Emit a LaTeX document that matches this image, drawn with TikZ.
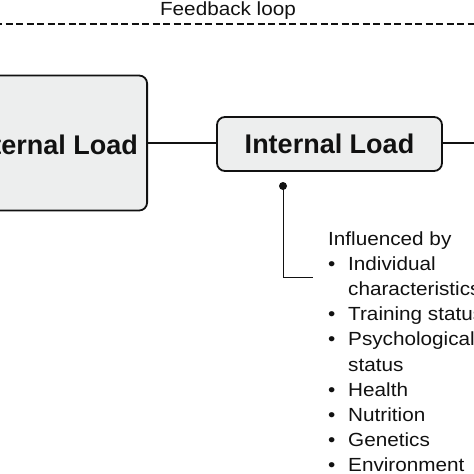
\documentclass[tikz,border=0pt]{standalone}
\usepackage{fontspec}
\setmainfont{Liberation Sans}
\newfontfamily\wideface[FakeStretch=1.09]{Liberation Sans}
\definecolor{boxgray}{HTML}{EDEEEE}
\definecolor{ink}{HTML}{111111}
\tikzset{
  loadbox/.style={draw=ink, line width=1.8pt, fill=boxgray, rounded corners=8pt, inner sep=0pt,
    font=\fontsize{27}{30}\selectfont\bfseries, text=ink},
  link/.style={draw=ink, line width=1.4pt},
  pinline/.style={draw=ink, line width=1pt},
  listtext/.style={anchor=base west, inner sep=0pt, font=\wideface\fontsize{19}{25}\selectfont, text=ink},
}
\begin{document}
\begin{tikzpicture}[x=1pt, y=-1pt]
\useasboundingbox (0,0) rectangle (474,474);
\clip (0,0) rectangle (474,474);
% feedback loop
\node[listtext, anchor=base] (fb) at (228,15) {Feedback loop};
\coordinate (dl) at (-5,24);
\coordinate (dr) at (480,24);
\draw[draw=ink, line width=1.5pt, dash pattern=on 7pt off 3.5pt] (dl) -- (dr);
% boxes
\node[loadbox, minimum width=220pt, minimum height=135pt, anchor=east] (ext) at (148,143) {};
\node[anchor=base east, inner sep=0pt, font=\fontsize{27}{30}\selectfont\bfseries, text=ink] (extlbl) at (138,154.5) {External Load};
\node[loadbox, minimum width=225pt, minimum height=54pt] (int) at (329.5,144) {Internal Load};
\draw[link] (ext.east |- 0,143) -- (int.west |- 0,143);
\coordinate (rend) at (480,143);
\draw[link] (int.east |- 0,143) -- (rend);
% pin
\node[circle, fill=ink, inner sep=0pt, minimum size=8pt] (dot) at (283,186) {};
\coordinate (pinend) at (313,277);
\draw[pinline] (dot.center) |- (pinend);
% list
\node[listtext] (l0) at (328,245) {Influenced by};
\node[listtext] (b1) at (328,270.2) {•};
\node[listtext] (l1) at (348,270.2) {Individual};
\node[listtext] (l1b) at (348,295.4) {characteristics};
\node[listtext] (b2) at (328,320.6) {•};
\node[listtext] (l2) at (348,320.6) {Training status};
\node[listtext] (b3) at (328,345.8) {•};
\node[listtext] (l3) at (348,345.8) {Psychological};
\node[listtext] (l3b) at (348,371) {status};
\node[listtext] (b4) at (328,396.2) {•};
\node[listtext] (l4) at (348,396.2) {Health};
\node[listtext] (b5) at (328,421.4) {•};
\node[listtext] (l5) at (348,421.4) {Nutrition};
\node[listtext] (b6) at (328,446.6) {•};
\node[listtext] (l6) at (348,446.6) {Genetics};
\node[listtext] (b7) at (328,471.8) {•};
\node[listtext] (l7) at (348,471.8) {Environment};
\end{tikzpicture}
\end{document}
